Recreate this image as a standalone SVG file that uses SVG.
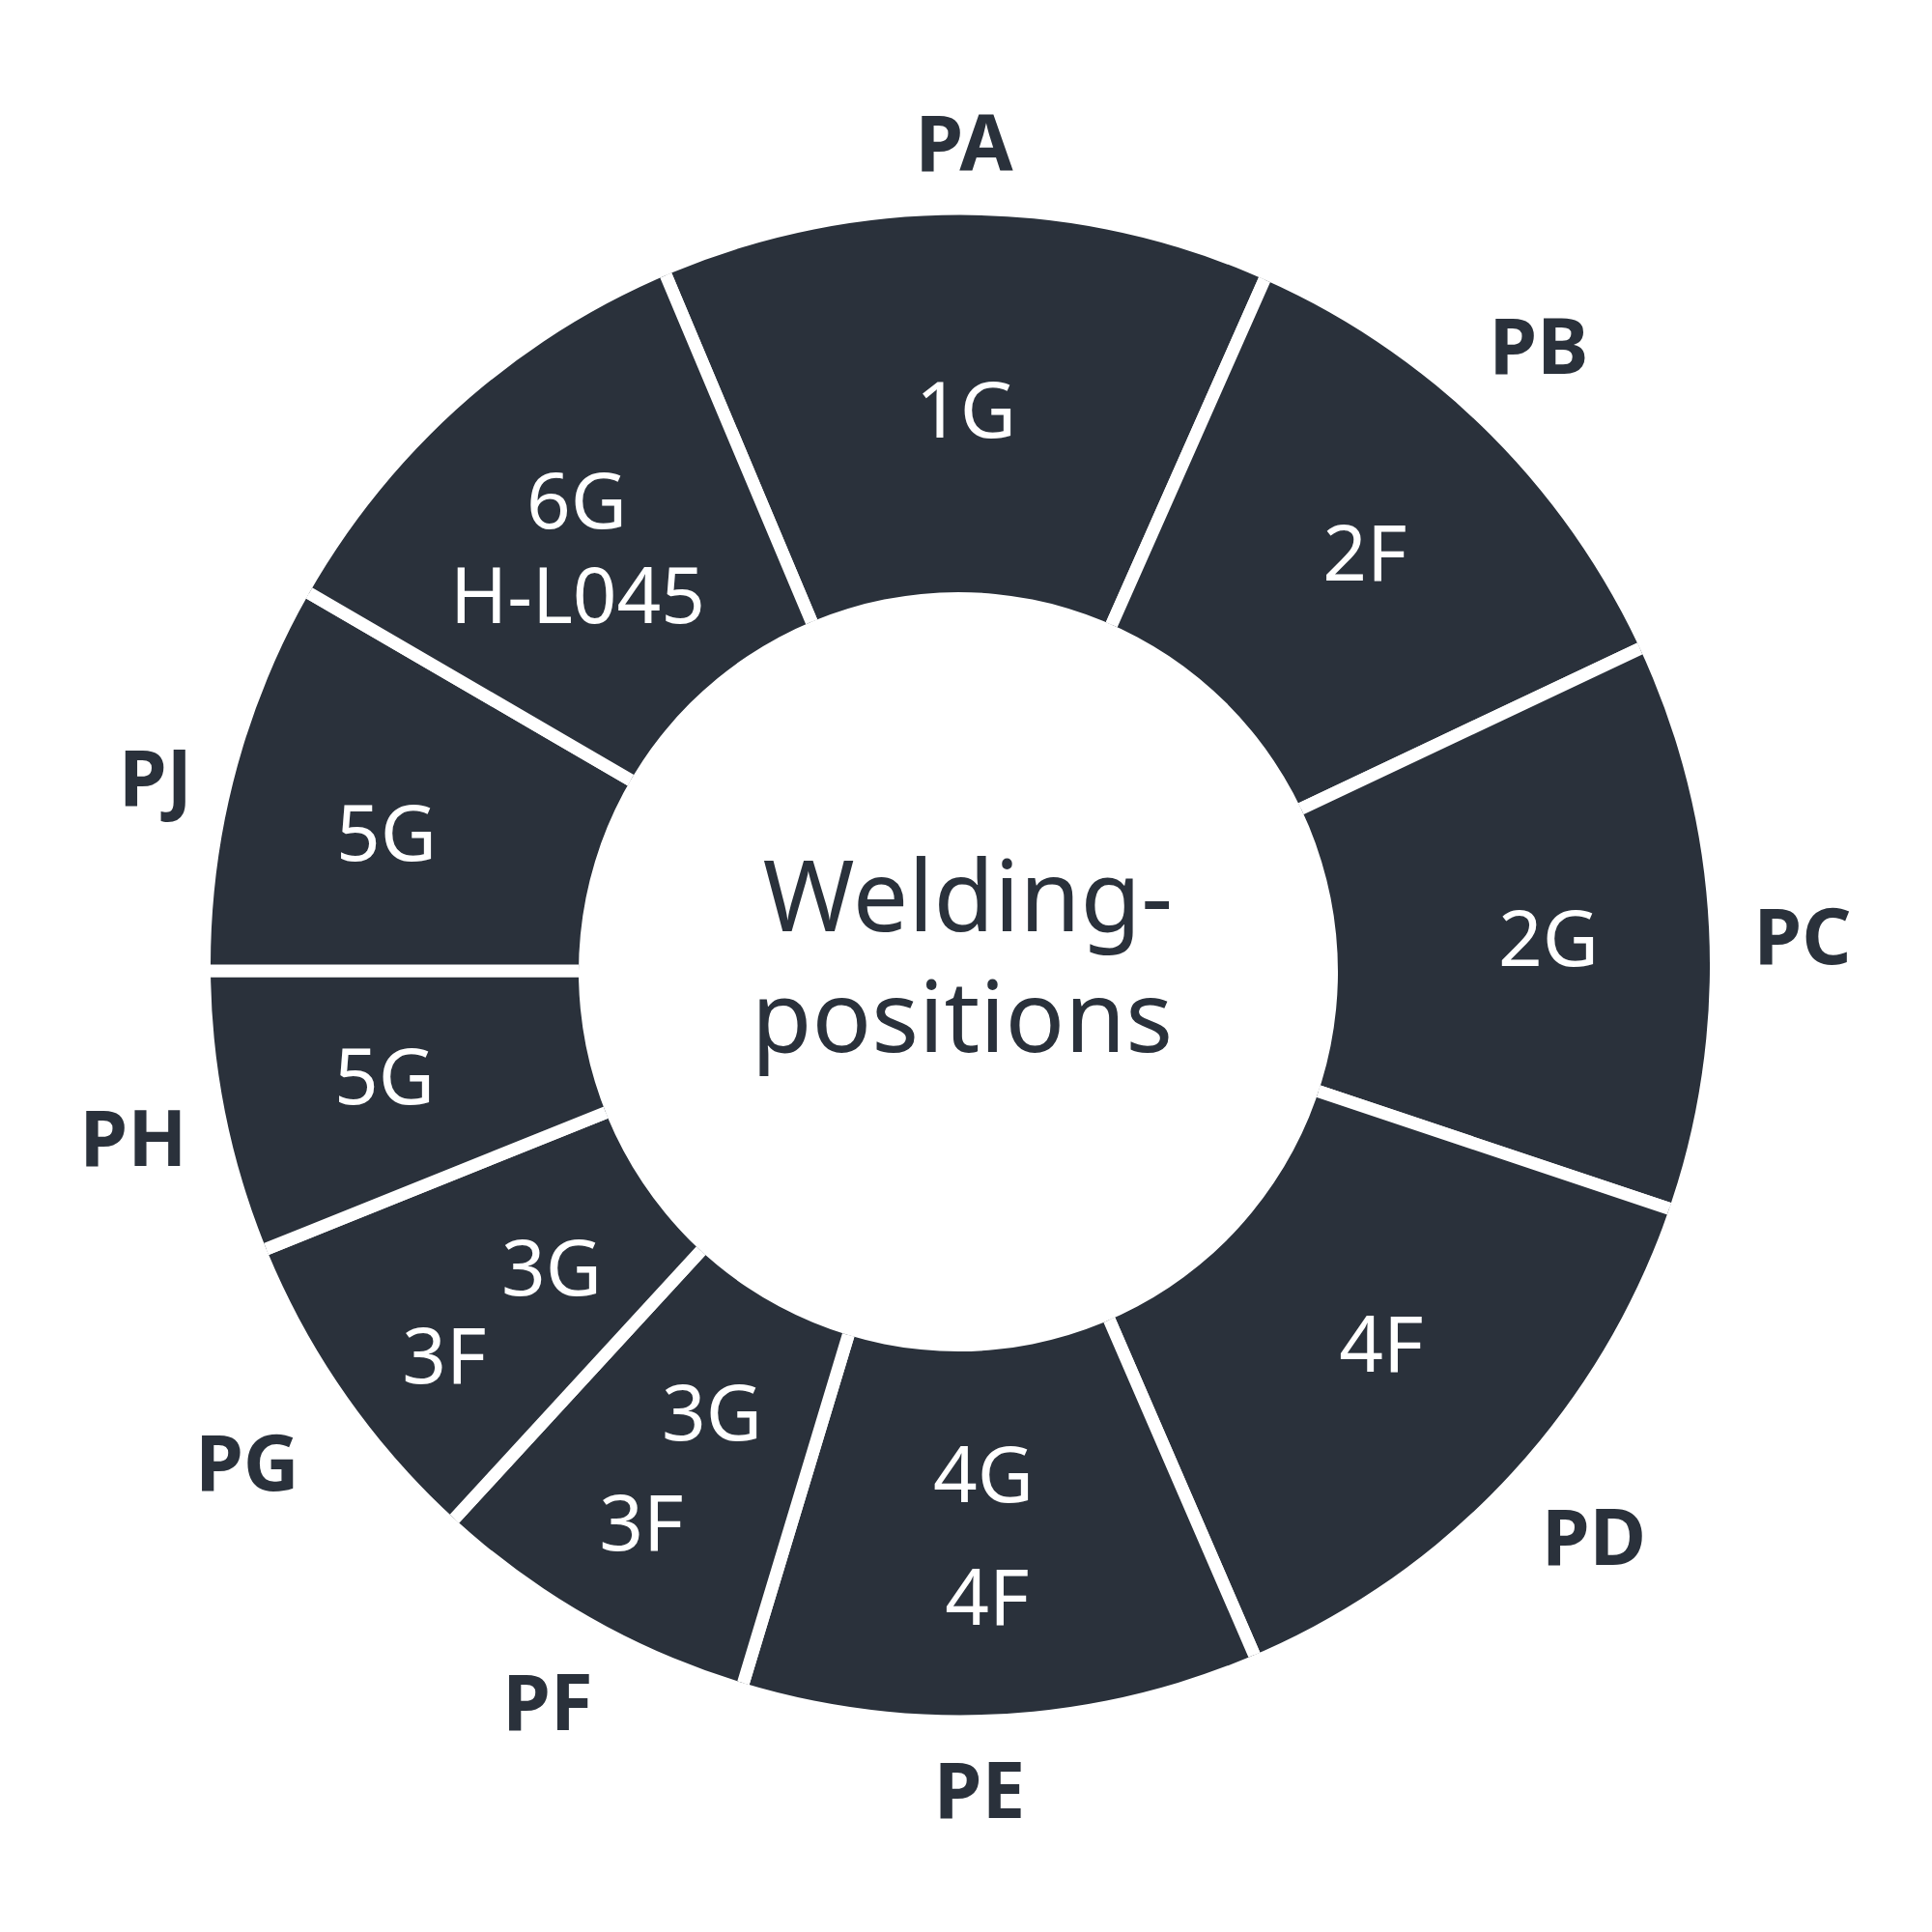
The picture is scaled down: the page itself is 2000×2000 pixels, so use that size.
<svg xmlns="http://www.w3.org/2000/svg" width="2000" height="2000" viewBox="0 0 2000 2000">
  <style>
    .seg { fill: #2a313b; stroke: #ffffff; stroke-width: 13; stroke-linejoin: miter; }
    .in { font-family: "Noto Sans", "Open Sans", "DejaVu Sans", sans-serif; font-size: 80px; fill: #ffffff; text-anchor: middle; }
    .out { font-family: "Noto Sans", "Open Sans", "DejaVu Sans", sans-serif; font-size: 80px; font-weight: 700; fill: #2a313b; text-anchor: middle; }
    .title { font-family: "Noto Sans", "Open Sans", "DejaVu Sans", sans-serif; font-size: 102px; fill: #2a313b; text-anchor: middle; }
  </style>
  <defs>
    <clipPath id="ring">
      <path clip-rule="evenodd" d="M 218 999 A 776 776 0 1 0 1770 999 A 776 776 0 1 0 218 999 Z M 599 1006 A 393 393 0 1 0 1385 1006 A 393 393 0 1 0 599 1006 Z"/>
    </clipPath>
  </defs>
  <rect x="0" y="0" width="2000" height="2000" fill="#ffffff"/>

  <g id="node-PA">
    <path class="seg" clip-path="url(#ring)" d="M 992 1005 L 643.2 175.3 A 900 900 0 0 1 1356.6 182.1 Z"/>
    <text class="in" x="1000" y="453">1G</text>
    <text class="out" x="998" y="177">PA</text>
  </g>
  <g id="node-PB">
    <path class="seg" clip-path="url(#ring)" d="M 992 1005 L 1356.6 182.1 A 900 900 0 0 1 1805.7 620.3 Z"/>
    <text class="in" x="1413" y="601">2F</text>
    <text class="out" x="1593" y="387">PB</text>
  </g>
  <g id="node-PC">
    <path class="seg" clip-path="url(#ring)" d="M 992 1005 L 1805.7 620.3 A 900 900 0 0 1 1845.5 1290.6 Z"/>
    <text class="in" x="1603" y="1000">2G</text>
    <text class="out" x="1866" y="998">PC</text>
  </g>
  <g id="node-PD">
    <path class="seg" clip-path="url(#ring)" d="M 992 1005 L 1845.5 1290.6 A 900 900 0 0 1 1349.4 1831.0 Z"/>
    <text class="in" x="1430" y="1420">4F</text>
    <text class="out" x="1650" y="1620">PD</text>
  </g>
  <g id="node-PE">
    <path class="seg" clip-path="url(#ring)" d="M 992 1005 L 1349.4 1831.0 A 900 900 0 0 1 731.9 1866.6 Z"/>
    <text class="in" x="1018" y="1555">4G</text>
    <text class="in" x="1022" y="1682">4F</text>
    <text class="out" x="1014" y="1882">PE</text>
  </g>
  <g id="node-PF">
    <path class="seg" clip-path="url(#ring)" d="M 992 1005 L 731.9 1866.6 A 900 900 0 0 1 382.8 1667.5 Z"/>
    <text class="in" x="737" y="1491">3G</text>
    <text class="in" x="664" y="1605">3F</text>
    <text class="out" x="567" y="1791">PF</text>
  </g>
  <g id="node-PG">
    <path class="seg" clip-path="url(#ring)" d="M 992 1005 L 382.8 1667.5 A 900 900 0 0 1 157.0 1340.7 Z"/>
    <text class="in" x="571" y="1341">3G</text>
    <text class="in" x="460" y="1432">3F</text>
    <text class="out" x="256" y="1543">PG</text>
  </g>
  <g id="node-PH">
    <path class="seg" clip-path="url(#ring)" d="M 992 1005 L 157.0 1340.7 A 900 900 0 0 1 92 1005 Z"/>
    <text class="in" x="398" y="1143">5G</text>
    <text class="out" x="138" y="1207">PH</text>
  </g>
  <g id="node-PJ">
    <path class="seg" clip-path="url(#ring)" d="M 992 1005 L 92 1005 A 900 900 0 0 1 214.1 552.3 Z"/>
    <text class="in" x="400" y="891">5G</text>
    <text class="out" x="161" y="834">PJ</text>
  </g>
  <g id="node-6G">
    <path class="seg" clip-path="url(#ring)" d="M 992 1005 L 214.1 552.3 A 900 900 0 0 1 643.2 175.3 Z"/>
    <text class="in" x="597" y="547">6G</text>
    <text class="in" x="598" y="645">H-L045</text>
  </g>
  <g id="node-center">
    <text class="title" x="1002" y="964">Welding-</text>
    <text class="title" x="996" y="1089">positions</text>
  </g>
  <g id="connectors"></g>
</svg>
